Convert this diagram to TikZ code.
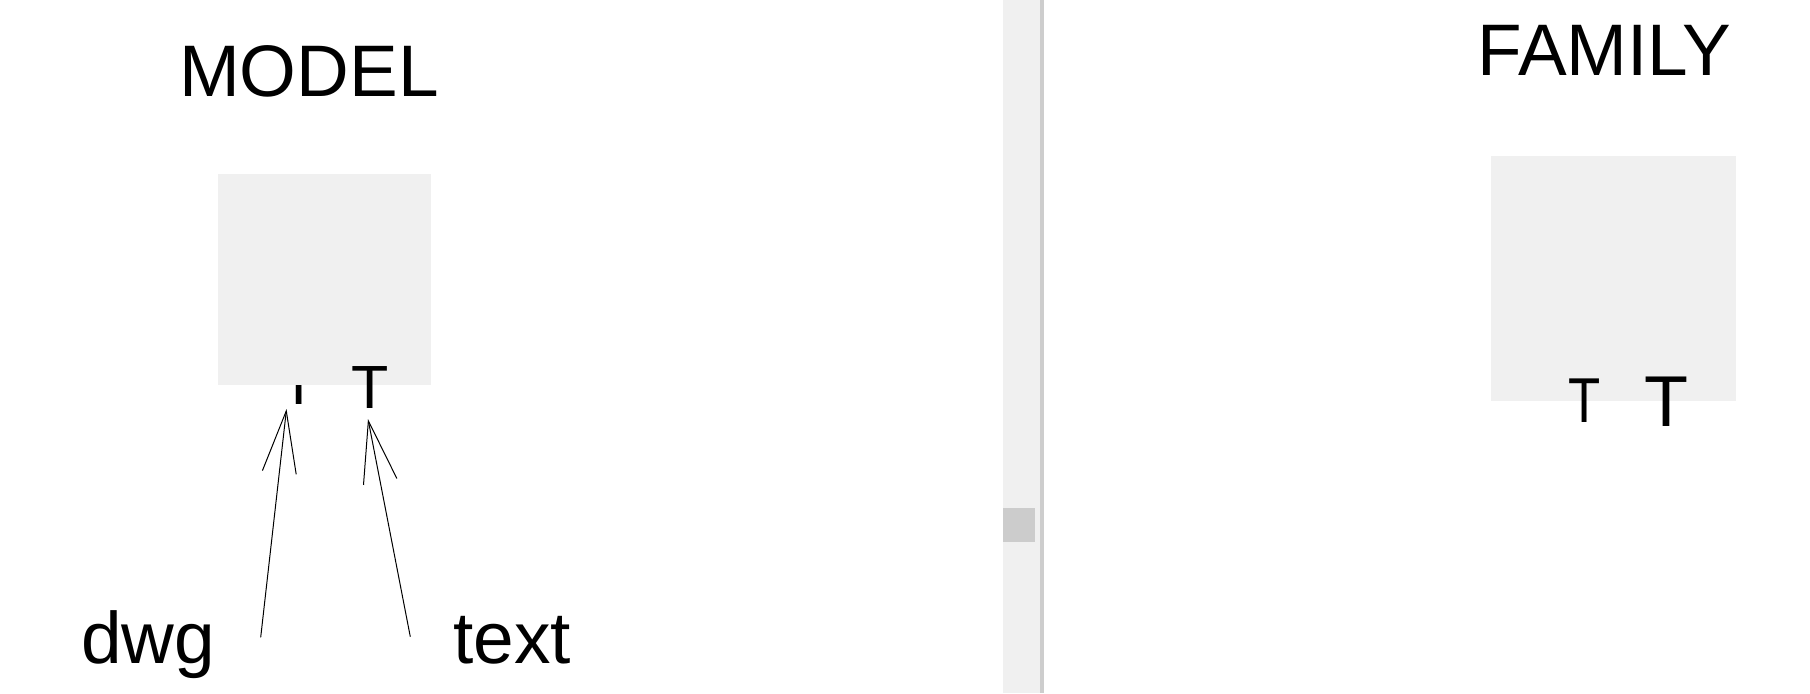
\documentclass[tikz,border=0pt]{standalone}
\usepackage{fontspec}
\setmainfont{Liberation Sans}
\usetikzlibrary{arrows.meta}
\usetikzlibrary{positioning}
\definecolor{panelgray}{HTML}{F0F0F0}
\definecolor{barline}{HTML}{CDCDCD}
\definecolor{thumbgray}{HTML}{CCCCCC}

\begin{document}
\begin{tikzpicture}[x=0.5pt,y=-0.5pt,
  lbl/.style={anchor=base west,inner sep=0pt,font=\fontsize{36.5}{40}\selectfont},
  pin/.style={anchor=base west,inner sep=0pt,font=\fontsize{30.5}{34}\selectfont},
  bigpin/.style={anchor=base west,inner sep=0pt,font=\fontsize{36}{40}\selectfont},
  smallpin/.style={anchor=base west,inner sep=0pt,xscale=0.83,font=\fontsize{31.7}{34}\selectfont},
  panel/.style={fill=panelgray,draw=none},
  pointer/.style={-{Straight Barb[length=31pt,width=17pt]},line width=0.5pt}]

\useasboundingbox (0,0) rectangle (1810,693);

% model side
\node[lbl] (model) at (178.6,96) {MODEL};
\node[pin] (tdwg) at (279.9,404) {T};
\fill[panel] (218,174) rectangle (431,385);
\node[pin] (ttext) at (351.5,408) {T};

\node[lbl] (dwg) at (80.8,663.3) {dwg};
\node[lbl] (text) at (452.8,663.3) {text};

\coordinate (dwgtail) at (260.7,637.3);
\coordinate (dwgtip) at (286.5,409);
\coordinate (texttail) at (410.3,636.7);
\coordinate (texttip) at (368,419);
\draw[pointer] (dwgtail) -- (dwgtip);
\draw[pointer] (texttail) -- (texttip);

% scroll bar
\fill[panelgray] (1003,0) rectangle (1040,693);
\fill[barline] (1040,0) rectangle (1044,693);
\fill[thumbgray] (1003,508) rectangle (1035,542);

% family side
\node[lbl] (family) at (1477,75) {FAMILY};
\fill[panel] (1491,156) rectangle (1736,401);
\node[smallpin] (tleft) at (1567.8,422) {T};
\node[bigpin] (tright) at (1643.8,426) {T};

\end{tikzpicture}
\end{document}
